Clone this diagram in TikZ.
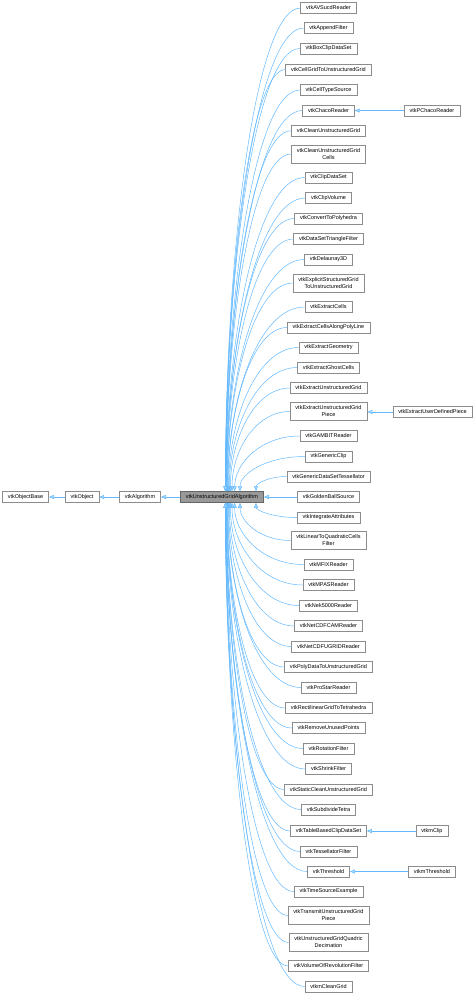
\documentclass[tikz,border=0pt]{standalone}
\usepackage{fontspec}
\setmainfont{Liberation Sans}
\usetikzlibrary{arrows.meta,calc}
\definecolor{edgeblue}{HTML}{63B8FF}
\definecolor{boxgray}{HTML}{8C8C8C}
\definecolor{curfill}{HTML}{999999}
\definecolor{curdraw}{HTML}{666666}
\tikzset{
  cls/.style={draw=boxgray, fill=white, line width=0.5pt, font=\fontsize{5.5}{7}\selectfont,
    inner xsep=5.5pt, inner ysep=0pt, minimum height=11pt, align=center},
  cls2/.style={cls, minimum height=18pt},
  cur/.style={cls, fill=curfill, draw=curdraw},
  edge/.style={draw=edgeblue, line width=0.5pt,
    -{Triangle[length=5pt,width=4pt,fill=edgeblue!55!white]}},
}
\newcommand\upedge[2]{%
  \pgfmathsetmacro\eoff{2+32/#2}%
  \draw[edge] let \p1=(#1.west), \p2=([xshift=\eoff pt]uga.north) in
    (\p1) .. controls ({\x1+0.6*(\x2-\x1)},\y1) and (\x2,{0.5*(\y1+\y2)}) .. (\p2);}
\newcommand\downedge[2]{%
  \pgfmathsetmacro\eoff{2+32/#2}%
  \draw[edge] let \p1=(#1.west), \p2=([xshift=\eoff pt]uga.south) in
    (\p1) .. controls ({\x1+0.6*(\x2-\x1)},\y1) and (\x2,{0.5*(\y1+\y2)}) .. (\p2);}
\begin{document}
\begin{tikzpicture}[x=1pt,y=-1pt]
\useasboundingbox (0,0) rectangle (474,994);
% main chain
\node[cls] (objbase) at (25.5,497) {vtkObjectBase};
\node[cls] (object) at (82,497) {vtkObject};
\node[cls] (algo) at (140,497) {vtkAlgorithm};
\node[cur] (uga) at (222,497) {vtkUnstructuredGridAlgorithm};
% children
\def\cx{328.5}
\node[cls] (avs) at (\cx,8) {vtkAVSucdReader};
\node[cls] (append) at (\cx,28) {vtkAppendFilter};
\node[cls] (boxclip) at (\cx,48.5) {vtkBoxClipDataSet};
\node[cls] (cellgrid) at (\cx,69.5) {vtkCellGridToUnstructuredGrid};
\node[cls] (celltype) at (\cx,90) {vtkCellTypeSource};
\node[cls] (chaco) at (\cx,110.5) {vtkChacoReader};
\node[cls] (cleanug) at (\cx,130.7) {vtkCleanUnstructuredGrid};
\node[cls2] (cleanugc) at (\cx,154) {vtkCleanUnstructuredGrid\\Cells};
\node[cls] (clipds) at (\cx,177.5) {vtkClipDataSet};
\node[cls] (clipvol) at (\cx,198) {vtkClipVolume};
\node[cls] (convpoly) at (\cx,218.5) {vtkConvertToPolyhedra};
\node[cls] (dstri) at (\cx,239) {vtkDataSetTriangleFilter};
\node[cls] (delaunay) at (\cx,259.5) {vtkDelaunay3D};
\node[cls2] (explicit) at (\cx,283) {vtkExplicitStructuredGrid\\ToUnstructuredGrid};
\node[cls] (extcells) at (\cx,307) {vtkExtractCells};
\node[cls] (extpoly) at (\cx,327.5) {vtkExtractCellsAlongPolyLine};
\node[cls] (extgeom) at (\cx,347.5) {vtkExtractGeometry};
\node[cls] (extghost) at (\cx,367.5) {vtkExtractGhostCells};
\node[cls] (extug) at (\cx,388) {vtkExtractUnstructuredGrid};
\node[cls2] (extugp) at (\cx,411.5) {vtkExtractUnstructuredGrid\\Piece};
\node[cls] (gambit) at (\cx,436) {vtkGAMBITReader};
\node[cls] (genclip) at (\cx,456.5) {vtkGenericClip};
\node[cls] (gendst) at (\cx,476.5) {vtkGenericDataSetTessellator};
\node[cls] (golden) at (\cx,497) {vtkGoldenBallSource};
\node[cls] (integ) at (\cx,517.5) {vtkIntegrateAttributes};
\node[cls2] (lintoq) at (\cx,540.5) {vtkLinearToQuadraticCells\\Filter};
\node[cls] (mfix) at (\cx,564.5) {vtkMFIXReader};
\node[cls] (mpas) at (\cx,585) {vtkMPASReader};
\node[cls] (nek) at (\cx,605.5) {vtkNek5000Reader};
\node[cls] (ncam) at (\cx,626) {vtkNetCDFCAMReader};
\node[cls] (nugrid) at (\cx,646.5) {vtkNetCDFUGRIDReader};
\node[cls] (polyds) at (\cx,667) {vtkPolyDataToUnstructuredGrid};
\node[cls] (prostar) at (\cx,687.5) {vtkProStarReader};
\node[cls] (rectil) at (\cx,708) {vtkRectilinearGridToTetrahedra};
\node[cls] (remove) at (\cx,728) {vtkRemoveUnusedPoints};
\node[cls] (rotation) at (\cx,748.5) {vtkRotationFilter};
\node[cls] (shrink) at (\cx,769) {vtkShrinkFilter};
\node[cls] (static) at (\cx,789.5) {vtkStaticCleanUnstructuredGrid};
\node[cls] (subdiv) at (\cx,809.5) {vtkSubdivideTetra};
\node[cls] (tbclip) at (\cx,831) {vtkTableBasedClipDataSet};
\node[cls] (tess) at (\cx,851.5) {vtkTessellatorFilter};
\node[cls] (thresh) at (\cx,871.5) {vtkThreshold};
\node[cls] (timesrc) at (\cx,891.5) {vtkTimeSourceExample};
\node[cls2] (transmit) at (\cx,915.5) {vtkTransmitUnstructuredGrid\\Piece};
\node[cls2] (quadric) at (\cx,942.5) {vtkUnstructuredGridQuadric\\Decimation};
\node[cls] (volrev) at (\cx,966) {vtkVolumeOfRevolutionFilter};
\node[cls] (vtkmclean) at (\cx,986.5) {vtkmCleanGrid};
% second rank
\node[cls] (pchaco) at (432,110.5) {vtkPChacoReader};
\node[cls] (extudp) at (432.5,412) {vtkExtractUserDefinedPiece};
\node[cls] (vtkmclip) at (432,831) {vtkmClip};
\node[cls] (vtkmthresh) at (432,871.5) {vtkmThreshold};
% edges main chain
\draw[edge] (object.west) -- (objbase.east);
\draw[edge] (algo.west) -- (object.east);
\draw[edge] (uga.west) -- (algo.east);
% second rank edges
\draw[edge] (pchaco.west) -- (chaco.east);
\draw[edge] (extudp.west) -- (extugp.east |- extudp.west);
\draw[edge] (vtkmclip.west) -- (tbclip.east);
\draw[edge] (vtkmthresh.west) -- (thresh.east);
% edges to uga
\draw[edge] (golden.west) -- (uga.east);
\foreach \nm/\kk in {gendst/1,genclip/2,gambit/3,extugp/4,extug/5,extghost/6,extgeom/7,extpoly/8,
  extcells/9,explicit/10,delaunay/11,dstri/12,convpoly/13,clipvol/14,clipds/15,cleanugc/16,
  cleanug/17,chaco/18,celltype/19,cellgrid/20,boxclip/21,append/22,avs/23}{\upedge{\nm}{\kk}}
\foreach \nm/\kk in {integ/1,lintoq/2,mfix/3,mpas/4,nek/5,ncam/6,nugrid/7,polyds/8,prostar/9,
  rectil/10,remove/11,rotation/12,shrink/13,static/14,subdiv/15,tbclip/16,tess/17,thresh/18,
  timesrc/19,transmit/20,quadric/21,volrev/22,vtkmclean/23}{\downedge{\nm}{\kk}}
\end{tikzpicture}
\end{document}
